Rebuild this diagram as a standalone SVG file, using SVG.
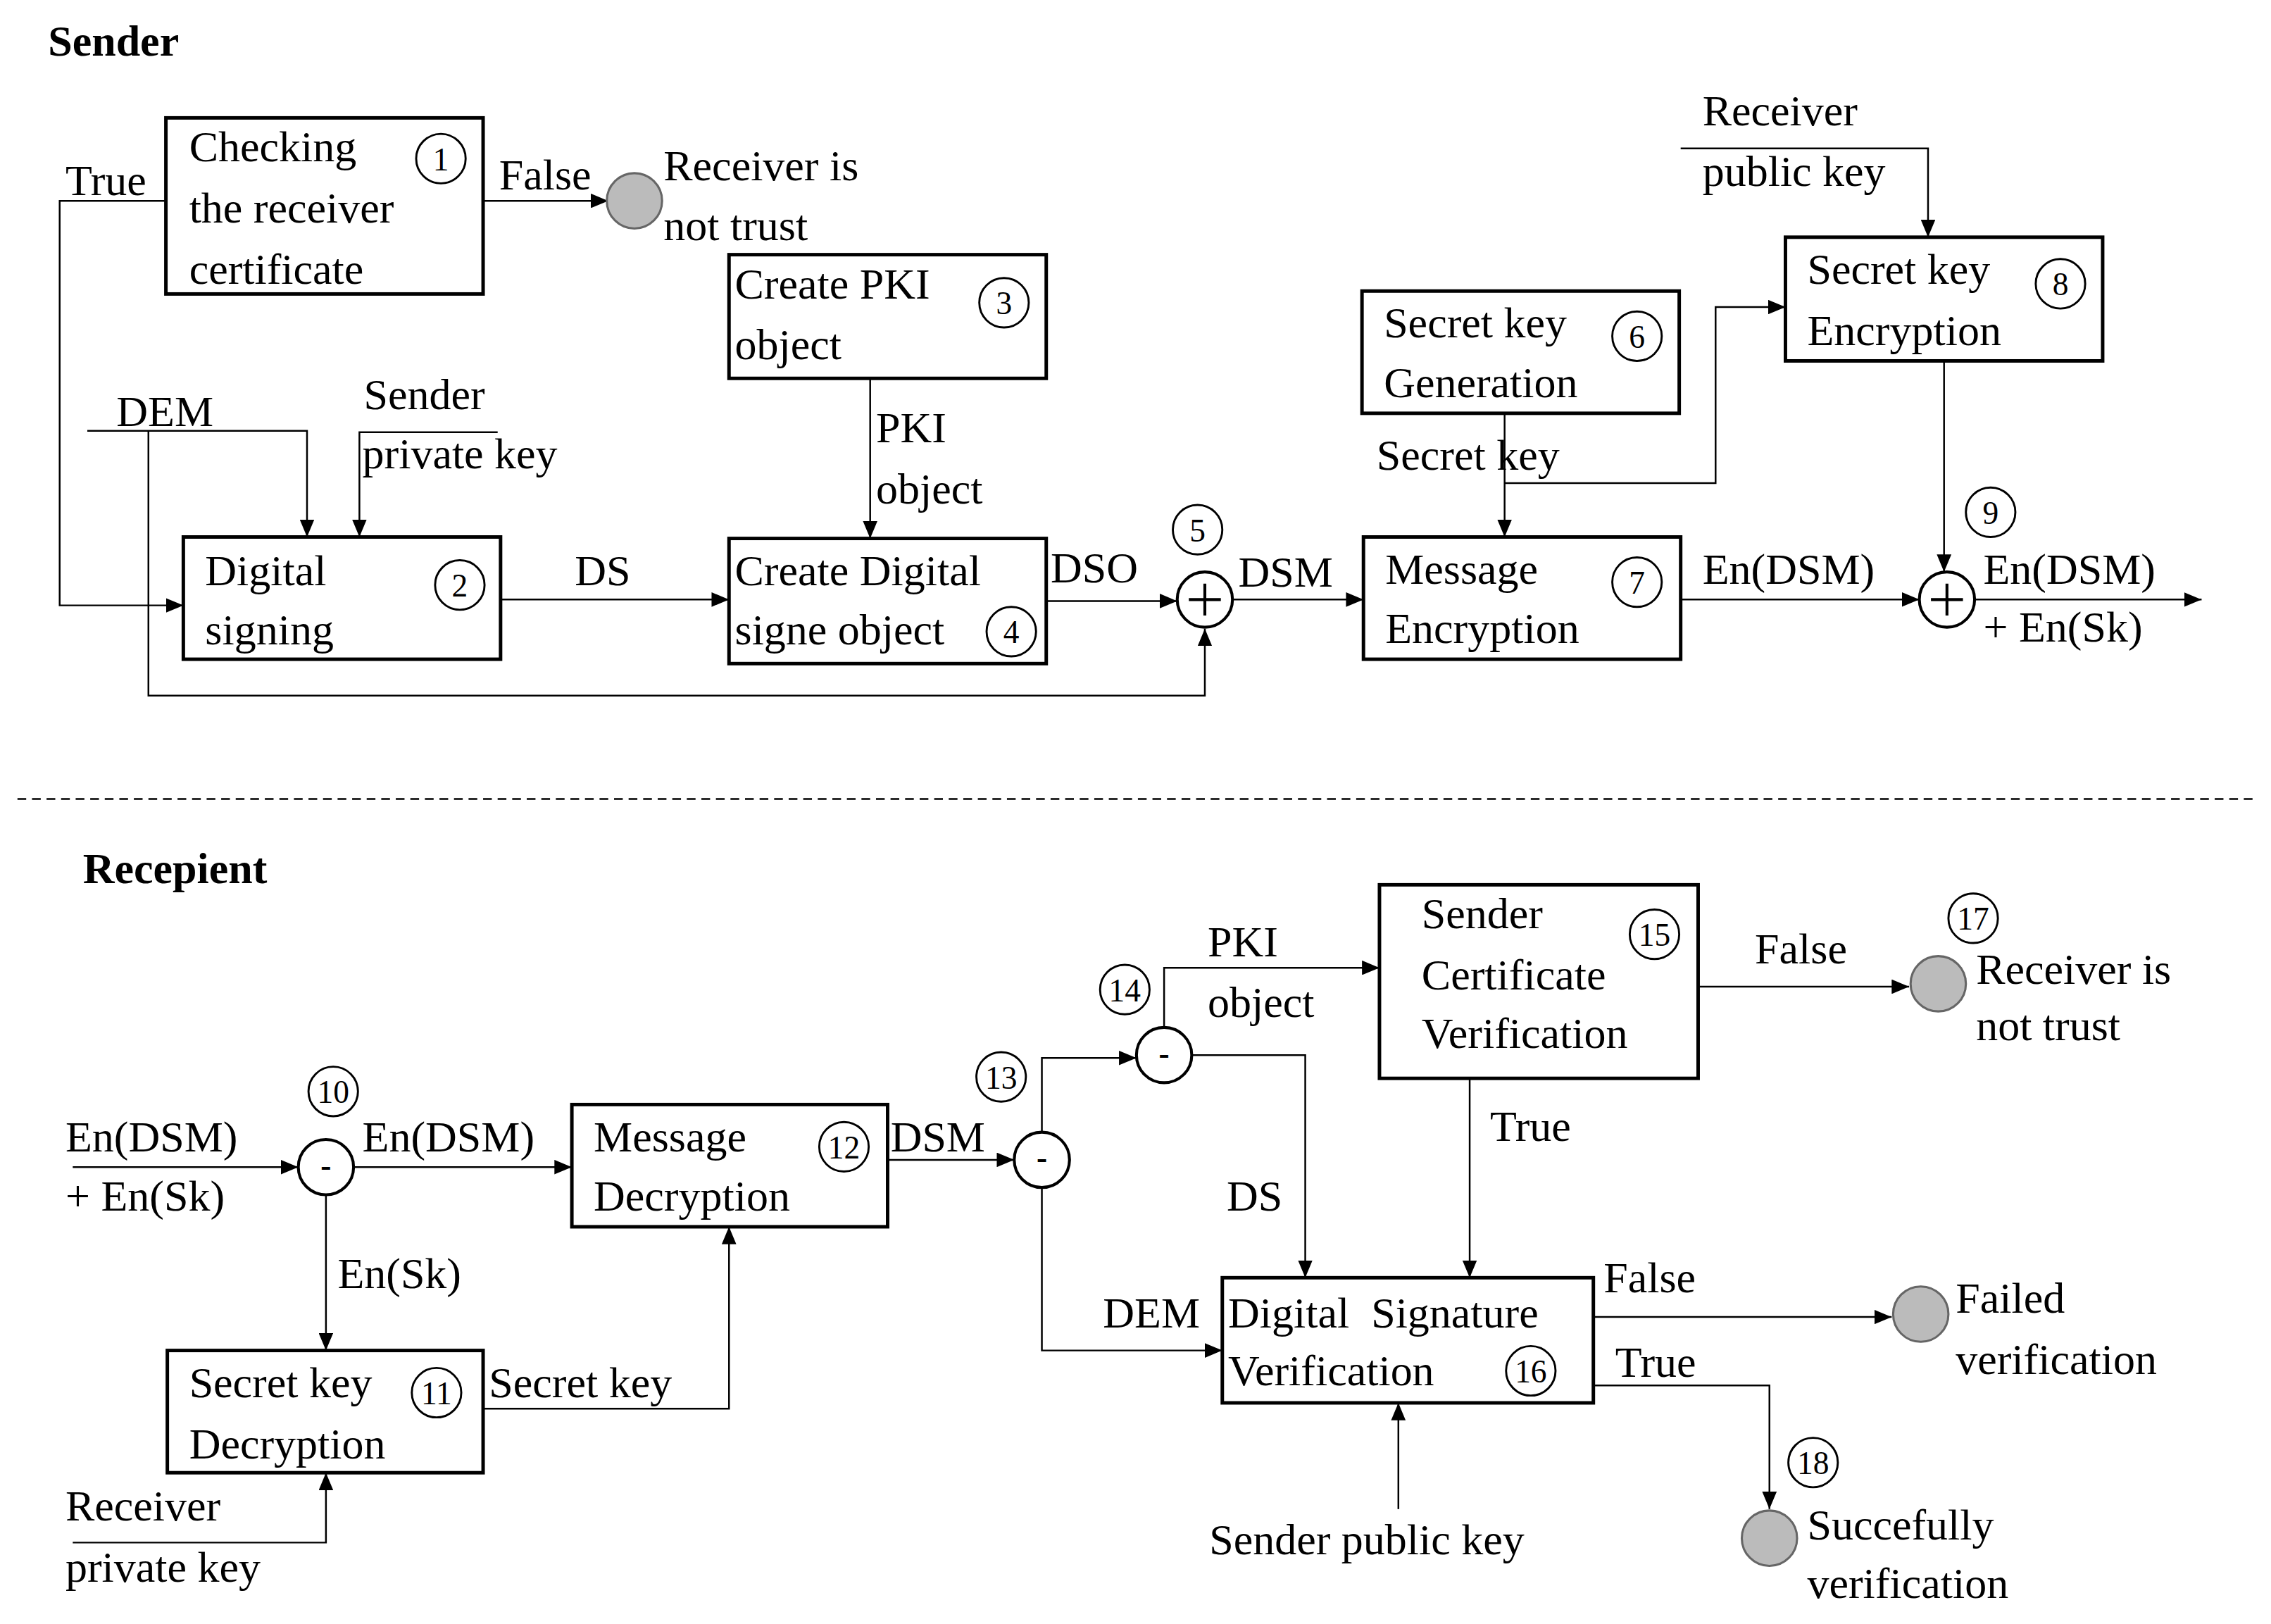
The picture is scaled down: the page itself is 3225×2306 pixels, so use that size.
<svg xmlns="http://www.w3.org/2000/svg" width="3225" height="2306" viewBox="0 0 3225 2306">
<style>
text{font-family:"Liberation Serif","Times New Roman",serif;font-size:30px;fill:#000}
.t{font-weight:bold}
.n{font-size:22px;text-anchor:middle}
.b{fill:#fff;stroke:#000;stroke-width:2.4}
.c{fill:none;stroke:#000;stroke-width:1.2}
.g{fill:#bbb;stroke:#666;stroke-width:1.5}
.op{fill:#fff;stroke:#000;stroke-width:2}
.w{fill:none;stroke:#000;stroke-width:1.4}
</style>
<defs>
<marker id="a" viewBox="0 0 12 10" refX="12" refY="5" markerWidth="12" markerHeight="10" markerUnits="userSpaceOnUse" orient="auto"><path d="M0,0L12,5L0,10z" fill="#000"/></marker>
</defs>
<rect width="3225" height="2306" fill="#fff"/>
<g transform="scale(2.0664)">
<text class="t" x="33" y="38">Sender</text>
<text class="t" x="57" y="607">Recepient</text>
<line x1="12" y1="549" x2="1548" y2="549" stroke="#000" stroke-width="1.2" stroke-dasharray="6,4"/>

<g id="connectors">
<path class="c" d="M114,138H41V416H126" marker-end="url(#a)"/>
<path class="c" d="M332,138H418" marker-end="url(#a)"/>
<path class="c" d="M598,260V370" marker-end="url(#a)"/>
<path class="c" d="M60,296H211V369" marker-end="url(#a)"/>
<path class="c" d="M102,296V478H828V432" marker-end="url(#a)"/>
<path class="c" d="M342,297H247V369" marker-end="url(#a)"/>
<path class="c" d="M344,412H501" marker-end="url(#a)"/>
<path class="c" d="M719,413H809" marker-end="url(#a)"/>
<path class="c" d="M847,412H937" marker-end="url(#a)"/>
<path class="c" d="M1034,284V369" marker-end="url(#a)"/>
<path class="c" d="M1034,332H1179V211H1227" marker-end="url(#a)"/>
<path class="c" d="M1155,102H1325V163" marker-end="url(#a)"/>
<path class="c" d="M1155,412H1319" marker-end="url(#a)"/>
<path class="c" d="M1336,248V393" marker-end="url(#a)"/>
<path class="c" d="M1357,412H1513" marker-end="url(#a)"/>

<path class="c" d="M50,802H205" marker-end="url(#a)"/>
<path class="c" d="M243,802H393" marker-end="url(#a)"/>
<path class="c" d="M224,821V928" marker-end="url(#a)"/>
<path class="c" d="M332,968H501V843" marker-end="url(#a)"/>
<path class="c" d="M50,1060H224V1012" marker-end="url(#a)"/>
<path class="c" d="M610,797H697" marker-end="url(#a)"/>
<path class="c" d="M716,778V727H781" marker-end="url(#a)"/>
<path class="c" d="M800,706V665H948" marker-end="url(#a)"/>
<path class="c" d="M819,725H897V878" marker-end="url(#a)"/>
<path class="c" d="M716,816V928H840" marker-end="url(#a)"/>
<path class="c" d="M1167,678H1312" marker-end="url(#a)"/>
<path class="c" d="M1010,741V878" marker-end="url(#a)"/>
<path class="c" d="M1095,905H1300" marker-end="url(#a)"/>
<path class="c" d="M1095,952H1216V1037" marker-end="url(#a)"/>
<path class="c" d="M961,1037V964" marker-end="url(#a)"/>
</g>

<g id="labels">
<text x="45" y="134">True</text>
<text x="343" y="130">False</text>
<text x="602" y="304">PKI</text><text x="602" y="346">object</text>
<text x="80" y="293">DEM</text>
<text x="250" y="281">Sender</text><text x="249" y="322">private key</text>
<text x="395" y="402">DS</text>
<text x="722" y="400">DSO</text>
<text x="851" y="403">DSM</text>
<text x="946" y="323">Secret key</text>
<text x="1170" y="86">Receiver</text><text x="1170" y="128">public key</text>
<text x="1170" y="401">En(DSM)</text>
<text x="1363" y="401">En(DSM)</text><text x="1363" y="441">+ En(Sk)</text>
<text x="45" y="791">En(DSM)</text><text x="45" y="832">+ En(Sk)</text>
<text x="249" y="791">En(DSM)</text>
<text x="232" y="885">En(Sk)</text>
<text x="336" y="960">Secret key</text>
<text x="45" y="1045">Receiver</text><text x="45" y="1087">private key</text>
<text x="612" y="791">DSM</text>
<text x="830" y="657">PKI</text><text x="830" y="699">object</text>
<text x="843" y="832">DS</text>
<text x="758" y="912">DEM</text>
<text x="1206" y="662">False</text>
<text x="1024" y="784">True</text>
<text x="1102" y="888">False</text>
<text x="1110" y="946">True</text>
<text x="831" y="1068">Sender public key</text>
</g>

<g id="n1"><rect class="b" x="114" y="81" width="218" height="121"/><text x="130" y="111">Checking</text><text x="130" y="153">the receiver</text><text x="130" y="195">certificate</text><circle class="w" cx="303" cy="109" r="17"/><text class="n" x="303" y="117">1</text></g>
<g id="end1"><circle class="g" cx="436" cy="138" r="19"/><text x="456" y="124">Receiver is</text><text x="456" y="165">not trust</text></g>
<g id="n3"><rect class="b" x="501" y="175" width="218" height="85"/><text x="505" y="205">Create PKI</text><text x="505" y="247">object</text><circle class="w" cx="690" cy="208" r="17"/><text class="n" x="690" y="216">3</text></g>
<g id="n2"><rect class="b" x="126" y="369" width="218" height="84"/><text x="141" y="402">Digital</text><text x="141" y="443">signing</text><circle class="w" cx="316" cy="402" r="17"/><text class="n" x="316" y="410">2</text></g>
<g id="n4"><rect class="b" x="501" y="370" width="218" height="86"/><text x="505" y="402">Create Digital</text><text x="505" y="443">signe object</text><circle class="w" cx="695" cy="434" r="17"/><text class="n" x="695" y="442">4</text></g>
<g id="n5"><circle class="op" cx="828" cy="412" r="19"/><path d="M817,412H839M828,401V423" stroke="#000" stroke-width="2"/><circle class="w" cx="823" cy="364" r="17"/><text class="n" x="823" y="372">5</text></g>
<g id="n6"><rect class="b" x="936" y="200" width="218" height="84"/><text x="951" y="232">Secret key</text><text x="951" y="273">Generation</text><circle class="w" cx="1125" cy="231" r="17"/><text class="n" x="1125" y="239">6</text></g>
<g id="n8"><rect class="b" x="1227" y="163" width="218" height="85"/><text x="1242" y="195">Secret key</text><text x="1242" y="237">Encryption</text><circle class="w" cx="1416" cy="195" r="17"/><text class="n" x="1416" y="203">8</text></g>
<g id="n7"><rect class="b" x="937" y="369" width="218" height="84"/><text x="952" y="401">Message</text><text x="952" y="442">Encryption</text><circle class="w" cx="1125" cy="400" r="17"/><text class="n" x="1125" y="408">7</text></g>
<g id="n9"><circle class="op" cx="1338" cy="412" r="19"/><path d="M1327,412H1349M1338,401V423" stroke="#000" stroke-width="2"/><circle class="w" cx="1368" cy="352" r="17"/><text class="n" x="1368" y="360">9</text></g>

<g id="n10"><circle class="op" cx="224" cy="802" r="19"/><text class="n" x="224" y="808" style="font-weight:bold">-</text><circle class="w" cx="229" cy="750" r="17"/><text class="n" x="229" y="758">10</text></g>
<g id="n12"><rect class="b" x="393" y="759" width="217" height="84"/><text x="408" y="791">Message</text><text x="408" y="832">Decryption</text><circle class="w" cx="580" cy="788" r="17"/><text class="n" x="580" y="796">12</text></g>
<g id="n11"><rect class="b" x="115" y="928" width="217" height="84"/><text x="130" y="960">Secret key</text><text x="130" y="1002">Decryption</text><circle class="w" cx="300" cy="957" r="17"/><text class="n" x="300" y="965">11</text></g>
<g id="n13"><circle class="op" cx="716" cy="797" r="19"/><text class="n" x="716" y="803" style="font-weight:bold">-</text><circle class="w" cx="688" cy="740" r="17"/><text class="n" x="688" y="748">13</text></g>
<g id="n14"><circle class="op" cx="800" cy="725" r="19"/><text class="n" x="800" y="731" style="font-weight:bold">-</text><circle class="w" cx="773" cy="680" r="17"/><text class="n" x="773" y="688">14</text></g>
<g id="n15"><rect class="b" x="948" y="608" width="219" height="133"/><text x="977" y="638">Sender</text><text x="977" y="680">Certificate</text><text x="977" y="720">Verification</text><circle class="w" cx="1137" cy="642" r="17"/><text class="n" x="1137" y="650">15</text></g>
<g id="n17"><circle class="g" cx="1332" cy="676" r="19"/><circle class="w" cx="1356" cy="631" r="17"/><text class="n" x="1356" y="639">17</text><text x="1358" y="676">Receiver is</text><text x="1358" y="715">not trust</text></g>
<g id="n16"><rect class="b" x="840" y="878" width="255" height="86"/><text x="844" y="912" xml:space="preserve">Digital  Signature</text><text x="844" y="952">Verification</text><circle class="w" cx="1052" cy="942" r="17"/><text class="n" x="1052" y="950">16</text></g>
<g id="fail"><circle class="g" cx="1320" cy="903" r="19"/><text x="1344" y="902">Failed</text><text x="1344" y="944">verification</text></g>
<g id="n18"><circle class="g" cx="1216" cy="1057" r="19"/><circle class="w" cx="1246" cy="1005" r="17"/><text class="n" x="1246" y="1013">18</text><text x="1242" y="1058">Succefully</text><text x="1242" y="1098">verification</text></g>
</g>
</svg>
